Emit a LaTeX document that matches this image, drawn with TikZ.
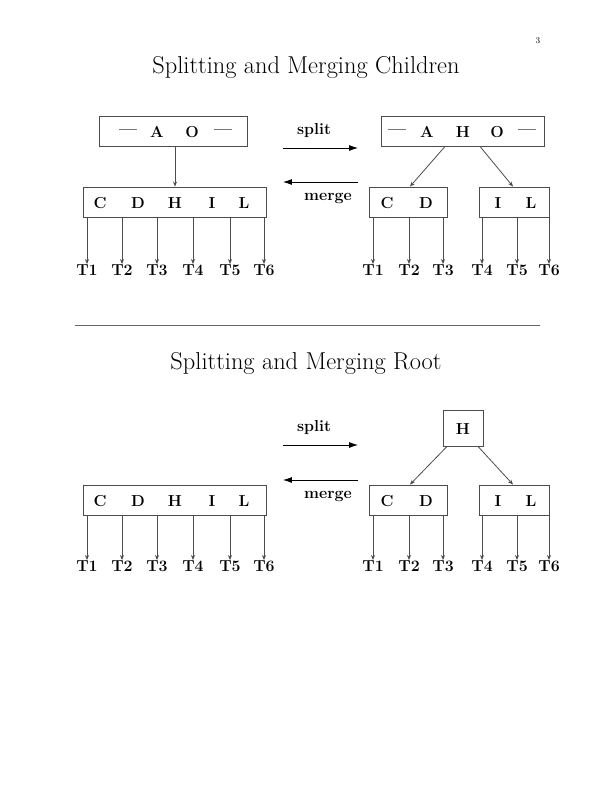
\documentclass[tikz,border=0pt]{standalone}
\usetikzlibrary{arrows.meta,calc}
\begin{document}
\begin{tikzpicture}[x=1bp,y=-1bp,
  box/.style={draw=black!70, line width=0.9pt, inner sep=0pt, minimum height=30bp},
  lab/.style={font=\fontsize{16}{19}\bfseries\selectfont, inner sep=0pt},
  tlab/.style={font=\fontsize{16}{19}\bfseries\selectfont, inner sep=1pt, anchor=north},
  ttl/.style={font=\fontsize{24.5}{29}\selectfont},
  link/.style={draw=black!70, line width=0.8pt, -{Stealth[length=5pt,width=4pt]}},
  op/.style={line width=0.8pt, -{Latex[length=9pt,width=6pt]}},
  oplab/.style={font=\fontsize{16}{19}\bfseries\selectfont, inner sep=0pt}]
\useasboundingbox (0,0) rectangle (612,792);

\node[font=\small] (pg) at (538,41) {3};

% ---------- Children ----------
\node[ttl] (t1) at (306,67) {Splitting and Merging Children};

\node[box, minimum width=148bp] (ao) at (173,131) {};
\node[lab] (ao1) at (128,132) {---};
\node[lab] (ao2) at (157,132) {A};
\node[lab] (ao3) at (192,132) {O};
\node[lab] (ao4) at (223,132) {---};

\node[box, minimum width=163bp] (aho) at (463,131) {};
\node[lab] (aho1) at (397,132) {---};
\node[lab] (aho2) at (427,132) {A};
\node[lab] (aho3) at (463,132) {H};
\node[lab] (aho4) at (497,132) {O};
\node[lab] (aho5) at (527,132) {---};

\coordinate (sa) at (283,148);
\coordinate (sb) at (358,148);
\draw[op] (sa) -- (sb);
\node[oplab] (spl1) at (314,131) {split};
\coordinate (ma) at (358,182);
\coordinate (mb) at (283,182);
\draw[op] (ma) -- (mb);
\node[oplab] (mrg1) at (328,198) {merge};

\node[box, minimum width=183bp] (cl) at (175,202) {};
\node[lab] (cl1) at (100,203) {C};
\node[lab] (cl2) at (138,203) {D};
\node[lab] (cl3) at (175,203) {H};
\node[lab] (cl4) at (212,203) {I};
\node[lab] (cl5) at (244,203) {L};
\draw[link] (ao.south -| cl3) -- (cl.north -| cl3);

\foreach \i/\x in {1/87,2/122,3/157,4/193,5/230,6/264}{
  \node[tlab] (lt\i) at (\x,264) {T\i};
  \draw[link] (lt\i |- cl.south) -- (lt\i.north);
}

\node[box, minimum width=78bp] (cd) at (408,202) {};
\node[lab] (cd1) at (387,203) {C};
\node[lab] (cd2) at (426,203) {D};
\node[box, minimum width=70bp] (il) at (514,202) {};
\node[lab] (il1) at (498,203) {I};
\node[lab] (il2) at (531,203) {L};
\draw[link] ($(aho.south)+(-18,0)$) -- ($(cd.north)+(2,0)$);
\draw[link] ($(aho.south)+(17,0)$) -- ($(il.north)+(-1,0)$);

\foreach \i/\x in {1/373,2/409,3/443}{
  \node[tlab] (rt\i) at (\x,264) {T\i};
  \draw[link] (rt\i |- cd.south) -- (rt\i.north);
}
\foreach \i/\x in {4/482,5/517,6/549}{
  \node[tlab] (rt\i) at (\x,264) {T\i};
  \draw[link] (rt\i |- il.south) -- (rt\i.north);
}

% separator
\coordinate (s1) at (75,325);
\coordinate (s2) at (540,325);
\draw[black!60, line width=0.6pt] (s1) -- (s2);

% ---------- Root ----------
\node[ttl] (t2) at (306,363) {Splitting and Merging Root};

\node[box, minimum width=40bp, minimum height=36bp] (h) at (463,428) {};
\node[lab] (h1) at (463,429) {H};

\coordinate (sc) at (283,445);
\coordinate (sd) at (358,445);
\draw[op] (sc) -- (sd);
\node[oplab] (spl2) at (314,428) {split};
\coordinate (mc) at (358,480);
\coordinate (md) at (283,480);
\draw[op] (mc) -- (md);
\node[oplab] (mrg2) at (328,496) {merge};

\node[box, minimum width=183bp] (bl) at (175,500) {};
\node[lab] (bl1) at (100,501) {C};
\node[lab] (bl2) at (138,501) {D};
\node[lab] (bl3) at (175,501) {H};
\node[lab] (bl4) at (212,501) {I};
\node[lab] (bl5) at (244,501) {L};
\foreach \i/\x in {1/87,2/122,3/157,4/193,5/230,6/264}{
  \node[tlab] (bt\i) at (\x,560) {T\i};
  \draw[link] (bt\i |- bl.south) -- (bt\i.north);
}

\node[box, minimum width=78bp] (cd2) at (408,500) {};
\node[lab] (cd21) at (387,501) {C};
\node[lab] (cd22) at (426,501) {D};
\node[box, minimum width=70bp] (il2) at (514,500) {};
\node[lab] (il21) at (498,501) {I};
\node[lab] (il22) at (531,501) {L};
\draw[link] ($(h.south)+(-16,0)$) -- ($(cd2.north)+(2,0)$);
\draw[link] ($(h.south)+(15,0)$) -- ($(il2.north)+(-1,0)$);

\foreach \i/\x in {1/373,2/409,3/443}{
  \node[tlab] (brt\i) at (\x,560) {T\i};
  \draw[link] (brt\i |- cd2.south) -- (brt\i.north);
}
\foreach \i/\x in {4/482,5/517,6/549}{
  \node[tlab] (brt\i) at (\x,560) {T\i};
  \draw[link] (brt\i |- il2.south) -- (brt\i.north);
}
\end{tikzpicture}
\end{document}
